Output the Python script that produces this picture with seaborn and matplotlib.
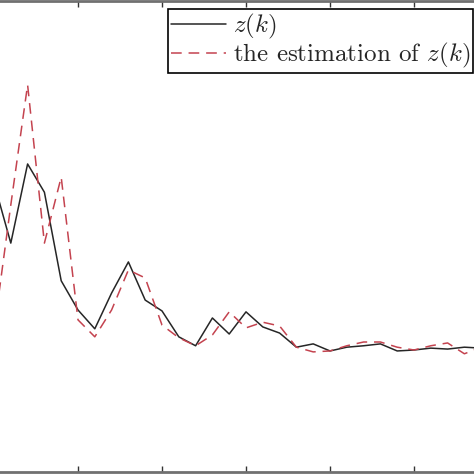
import numpy as np
import pandas as pd
import seaborn as sns
from matplotlib import pyplot as plt

# sample index k and the two series
k = list(range(30))
z = [6.14, 4.86, 6.54, 5.94, 4.06, 3.44, 3.04, 3.80, 4.46, 3.65,
     3.42, 2.87, 2.68, 3.27, 2.93, 3.40, 3.08, 2.95, 2.65, 2.72,
     2.57, 2.65, 2.68, 2.72, 2.57, 2.59, 2.63, 2.61, 2.65, 2.63]
z_est = [3.01, 5.67, 8.22, 4.86, 6.26, 3.23, 2.87, 3.44, 4.29, 4.12,
         3.12, 2.85, 2.68, 2.91, 3.40, 3.06, 3.18, 3.10, 2.65, 2.55,
         2.57, 2.68, 2.76, 2.76, 2.65, 2.59, 2.68, 2.74, 2.51, 2.65]
xticks = [0, 5, 10, 15, 20, 25, 30]

df = pd.DataFrame({'k': k, 'z': z, 'z_est': z_est})

sns.set_style('white')
plt.rcParams['font.family'] = ['cmr10', 'DejaVu Serif']
plt.rcParams['mathtext.fontset'] = 'cm'
plt.rcParams['axes.formatter.use_mathtext'] = True

fig = plt.figure(figsize=(4.74, 4.74), dpi=100)
# the picture is a crop: the left and right sides of the axes are cut off
ax = fig.add_axes([-6 / 474, 2 / 474, 504 / 474, 471 / 474])

sns.lineplot(x='k', y='z', data=df, ax=ax, color='#262626', lw=1.1,
             label='$z(k)$')
sns.lineplot(x='k', y='z_est', data=df, ax=ax, color='#c4434f', lw=1.1,
             label='the estimation of $z(k)$')
ax.lines[1].set_dashes((7, 4.5))

ax.set_xlim(0, 30)
ax.set_ylim(0, 10)
ax.set_xticks(xticks)
ax.set_yticks([])
ax.set_xlabel('')
ax.set_ylabel('')
ax.tick_params(axis='x', direction='in', length=4, width=1, color='#333333',
               top=True, bottom=True, labelbottom=False, labeltop=False)
for side in ['top', 'bottom']:
    ax.spines[side].set_color('#707070')
    ax.spines[side].set_linewidth(2)

leg = ax.legend(loc='upper right', bbox_to_anchor=(473 / 474, 1 - 9 / 474),
                bbox_transform=fig.transFigure,
                fontsize=18, frameon=True, fancybox=False, framealpha=1,
                edgecolor='black', handlelength=2.2, handletextpad=0.25,
                labelspacing=0.0, borderpad=0.12, borderaxespad=0)
leg.get_frame().set_linewidth(1.2)
leg.get_lines()[1].set_dashes((7, 4.5))

fig.savefig('out.png', dpi=100)
